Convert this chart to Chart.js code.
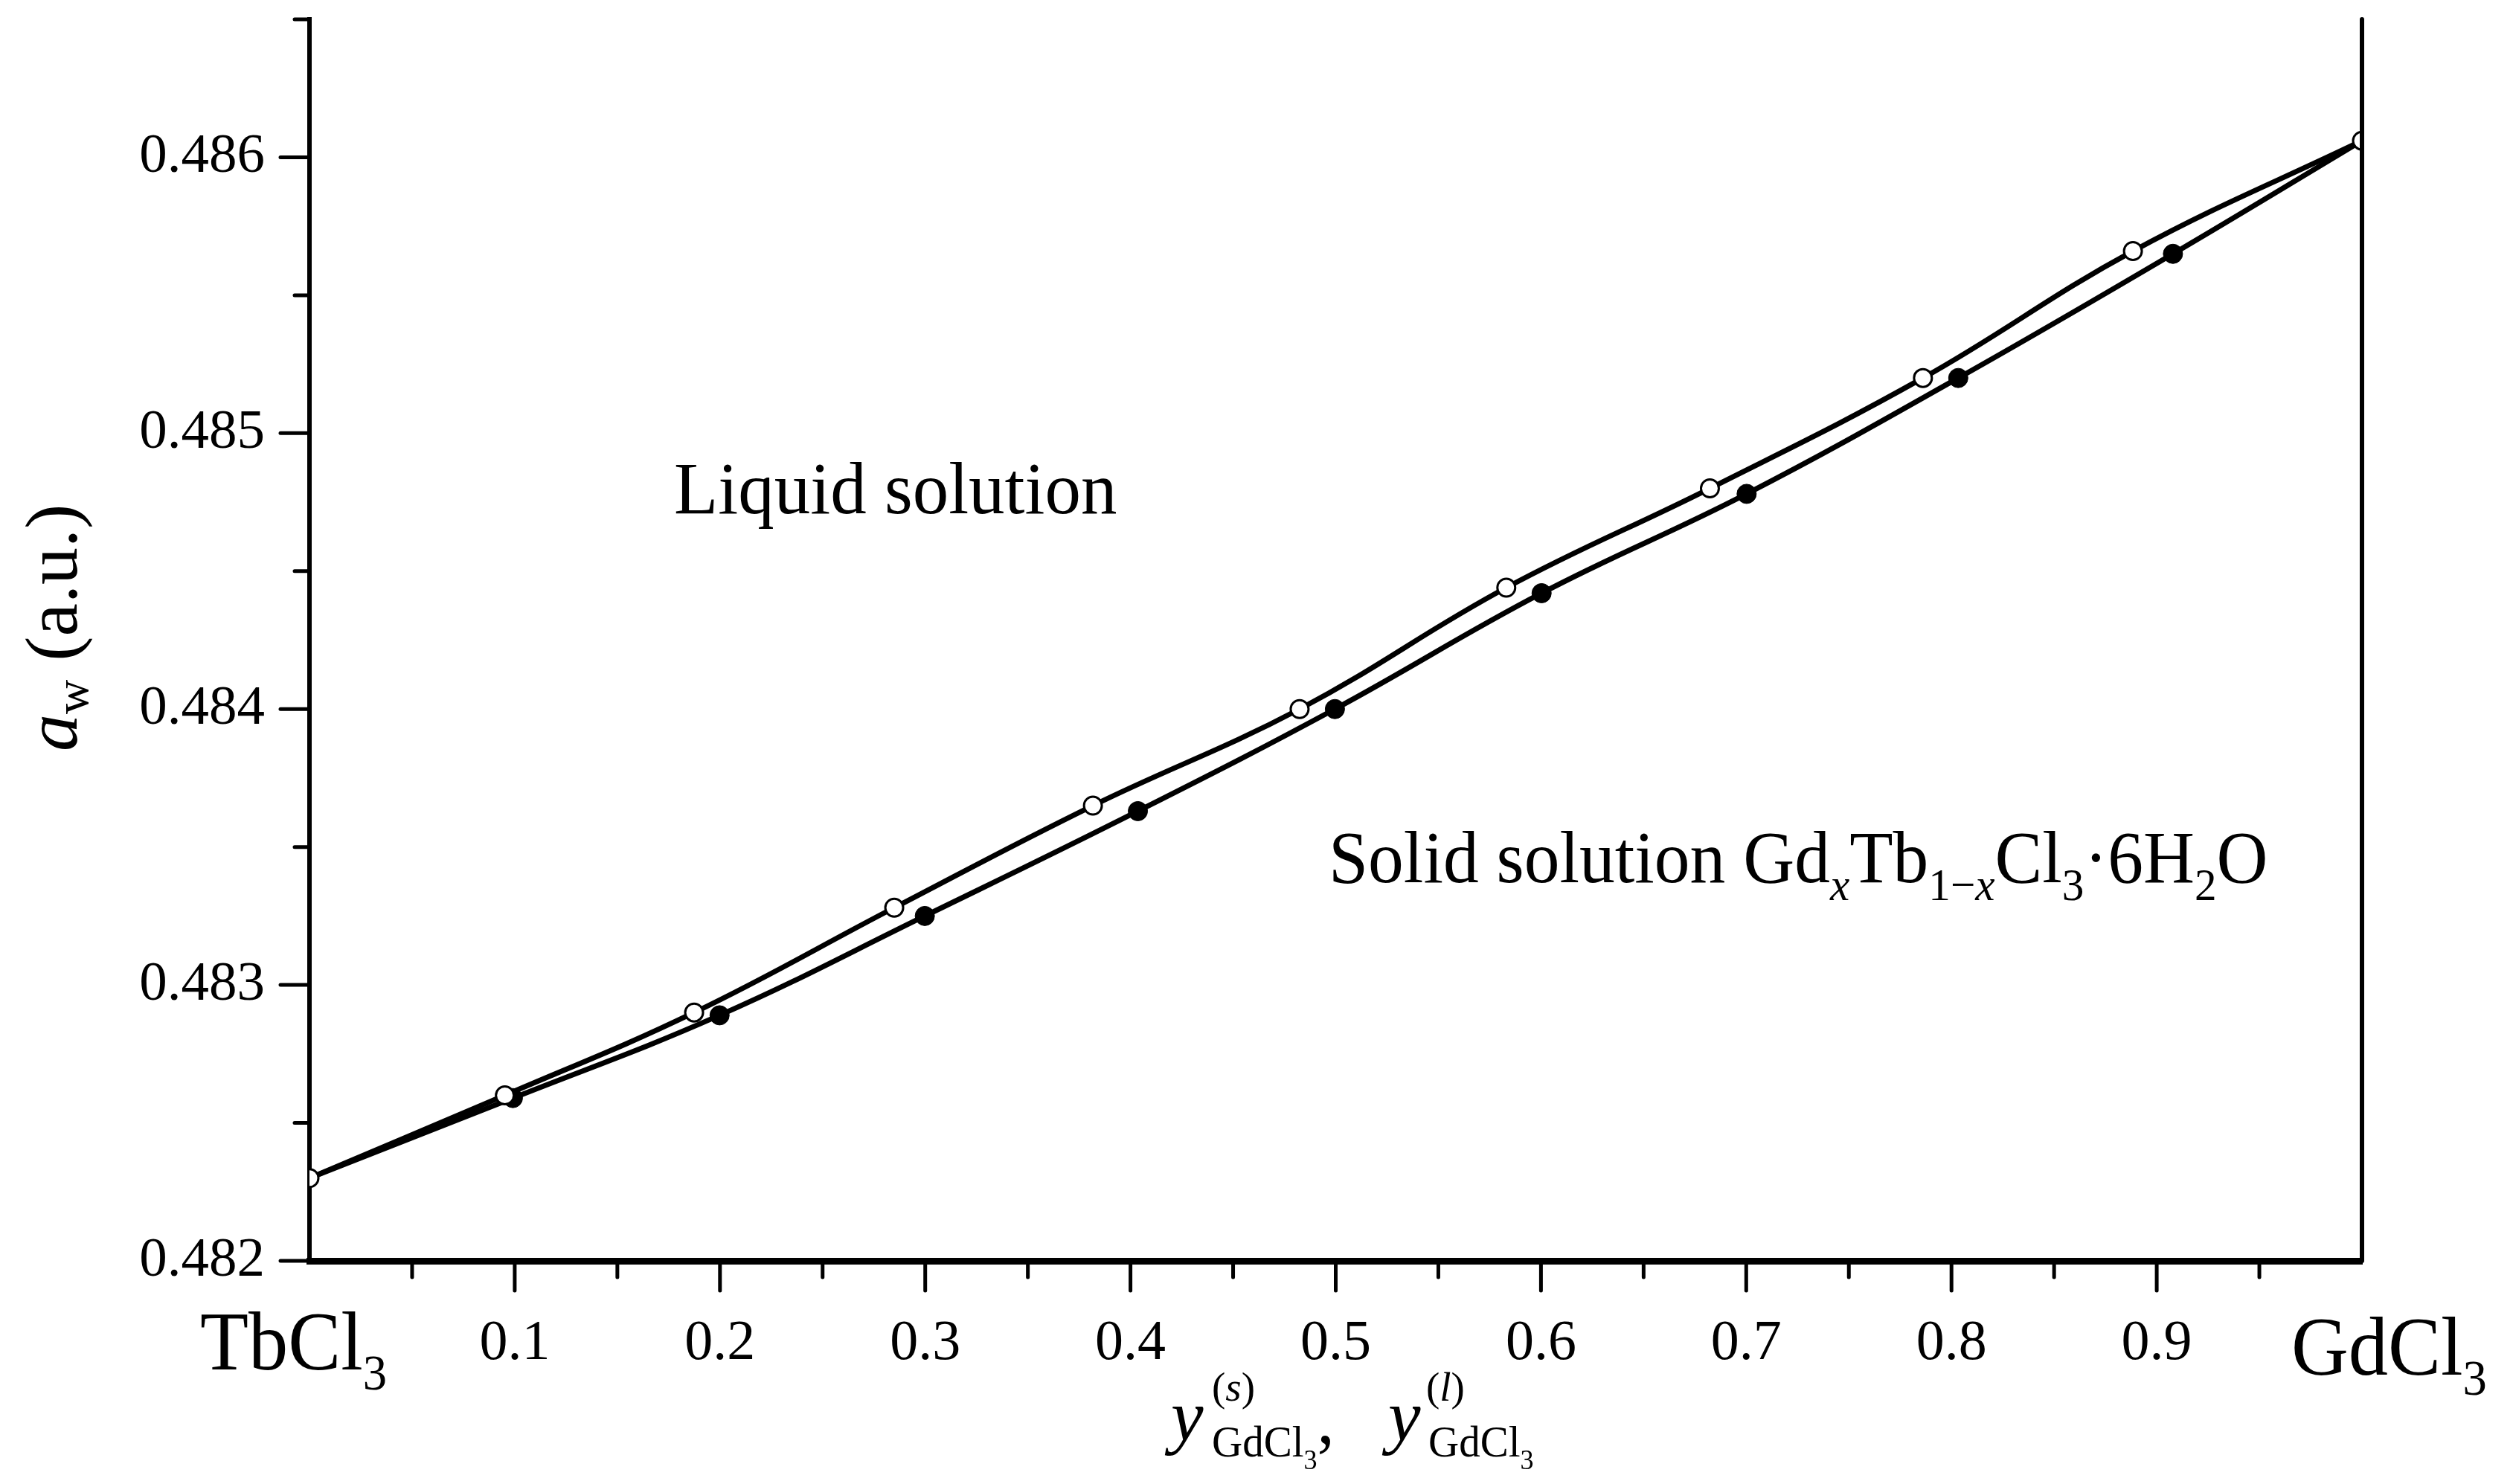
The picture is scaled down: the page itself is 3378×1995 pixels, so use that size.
<!DOCTYPE html>
<html>
<head>
<meta charset="utf-8">
<script src="https://cdn.jsdelivr.net/npm/chart.js@4.4.1/dist/chart.umd.min.js"></script>
<style>
  html, body { margin: 0; padding: 0; background: #fff; }
  #wrap { width: 3378px; height: 1995px; }
</style>
</head>
<body>
<div id="wrap"><canvas id="grafico" width="3378" height="1995"></canvas></div>
<script>
// puntos (a_w frente a la fracción de GdCl3)
const yLiquido  = [0, 0.0952, 0.1874, 0.2849, 0.3817, 0.4824, 0.5831, 0.6823, 0.7861, 0.8884, 1.0];
const awLiquido = [0.4823, 0.4826, 0.4829, 0.48328, 0.48365, 0.4840, 0.48444, 0.4848, 0.4852, 0.48566, 0.48606];
const ySolido   = [0, 0.0991, 0.1998, 0.2998, 0.4036, 0.4996, 0.6003, 0.7002, 0.8033, 0.9079, 1.0];
const awSolido  = [0.4823, 0.48259, 0.48289, 0.48325, 0.48363, 0.4840, 0.48442, 0.48478, 0.4852, 0.48565, 0.48606];

// marcas de los ejes
const xMarcasMayores = [0.1, 0.2, 0.3, 0.4, 0.5, 0.6, 0.7, 0.8, 0.9];
const xMarcasMenores = [0.05, 0.15, 0.25, 0.35, 0.45, 0.55, 0.65, 0.75, 0.85, 0.95];
const yMarcasMayores = [0.482, 0.483, 0.484, 0.485, 0.486];
const yMarcasMenores = [0.4825, 0.4835, 0.4845, 0.4855, 0.4865];

const FUENTE = '"Liberation Serif", "Times New Roman", serif';

function pares(xs, ys) {
  return xs.map((x, i) => ({ x, y: ys[i] }));
}

// escribe trozos de texto seguidos (subíndices, cursivas...)
function escribir(ctx, x, y, partes, escalaX = 1, angulo = 0) {
  ctx.save();
  ctx.translate(x, y);
  if (angulo) ctx.rotate(angulo);
  ctx.scale(escalaX, 1);
  ctx.fillStyle = '#000';
  ctx.textAlign = 'left';
  ctx.textBaseline = 'alphabetic';
  let cx = 0;
  partes.forEach((p) => {
    ctx.font = `${p.italica ? 'italic ' : ''}${p.tam}px ${FUENTE}`;
    ctx.fillText(p.t, cx, p.dy || 0);
    cx += ctx.measureText(p.t).width;
  });
  ctx.restore();
}

const marco = {
  id: 'marco',
  afterDraw(chart) {
    const { ctx, chartArea, scales } = chart;
    const sx = scales.x;
    const sy = scales.y;

    ctx.save();
    ctx.strokeStyle = '#000';
    ctx.lineCap = 'round';

    // eje derecho sin marcas
    ctx.lineWidth = 6;
    ctx.beginPath();
    ctx.moveTo(chartArea.right, chartArea.top);
    ctx.lineTo(chartArea.right, chartArea.bottom);
    ctx.stroke();

    // marcas hacia fuera
    ctx.lineWidth = 5;
    const abajo = chartArea.bottom;
    xMarcasMayores.forEach((v) => {
      const px = sx.getPixelForValue(v);
      ctx.beginPath(); ctx.moveTo(px, abajo); ctx.lineTo(px, abajo + 40); ctx.stroke();
    });
    xMarcasMenores.forEach((v) => {
      const px = sx.getPixelForValue(v);
      ctx.beginPath(); ctx.moveTo(px, abajo); ctx.lineTo(px, abajo + 22); ctx.stroke();
    });
    const izq = chartArea.left;
    yMarcasMayores.forEach((v) => {
      const py = sy.getPixelForValue(v);
      ctx.beginPath(); ctx.moveTo(izq, py); ctx.lineTo(izq - 39, py); ctx.stroke();
    });
    yMarcasMenores.forEach((v) => {
      const py = sy.getPixelForValue(v);
      ctx.beginPath(); ctx.moveTo(izq, py); ctx.lineTo(izq - 20, py); ctx.stroke();
    });
    ctx.restore();

    // extremos del eje x
    escribir(ctx, 269, 1841, [{ t: 'TbCl', tam: 112 }, { t: '3', tam: 68, dy: 27 }], 0.95);
    escribir(ctx, 3080, 1848, [{ t: 'GdCl', tam: 112 }, { t: '3', tam: 68, dy: 27 }], 0.95);

    // título del eje x
    escribir(ctx, 1574, 1936, [{ t: 'y', tam: 98, italica: true }]);
    escribir(ctx, 1629, 1883, [{ t: '(', tam: 55 }, { t: 's', tam: 55, italica: true }, { t: ')', tam: 55 }]);
    escribir(ctx, 1629, 1958, [{ t: 'GdCl', tam: 60 }, { t: '3', tam: 38, dy: 17 }, { t: ',', tam: 98, dy: -18 }], 0.95);
    escribir(ctx, 1866, 1936, [{ t: 'y', tam: 98, italica: true }]);
    escribir(ctx, 1917, 1883, [{ t: '(', tam: 55 }, { t: 'l', tam: 55, italica: true }, { t: ')', tam: 55 }]);
    escribir(ctx, 1920, 1958, [{ t: 'GdCl', tam: 60 }, { t: '3', tam: 38, dy: 17 }], 0.95);

    // título del eje y
    escribir(ctx, 103, 1010, [
      { t: 'a', tam: 100, italica: true },
      { t: 'w', tam: 64, dy: 15 },
      { t: ' (a.u.)', tam: 100 }
    ], 1, -Math.PI / 2);

    // rótulos de las regiones
    escribir(ctx, 906, 690, [{ t: 'Liquid solution', tam: 100 }], 0.97);
    escribir(ctx, 1786, 1186, [
      { t: 'Solid solution Gd', tam: 100 },
      { t: 'x', tam: 62, italica: true, dy: 24 },
      { t: 'Tb', tam: 100 },
      { t: '1\u2212', tam: 62, dy: 24 },
      { t: 'x', tam: 62, italica: true, dy: 24 },
      { t: 'Cl', tam: 100 },
      { t: '3', tam: 62, dy: 24 },
      { t: '\u00B76H', tam: 100 },
      { t: '2', tam: 62, dy: 24 },
      { t: 'O', tam: 100 }
    ], 0.955);
  }
};

const ultimo = ySolido.length - 1;

new Chart(document.getElementById('grafico'), {
  type: 'line',
  data: {
    datasets: [
      {
        label: 'Liquid',
        data: pares(yLiquido, awLiquido),
        borderColor: '#000',
        borderWidth: 7,
        tension: 0.4,
        pointRadius: 12,
        pointBorderWidth: 3,
        pointBackgroundColor: '#fff',
        pointBorderColor: '#000'
      },
      {
        label: 'Solid',
        data: pares(ySolido, awSolido),
        borderColor: '#000',
        borderWidth: 7,
        tension: 0.4,
        pointRadius: (c) => (c.dataIndex === 0 || c.dataIndex === ultimo ? 0 : 13),
        pointBorderWidth: 1,
        pointBackgroundColor: '#000',
        pointBorderColor: '#000'
      }
    ]
  },
  options: {
    responsive: false,
    animation: false,
    devicePixelRatio: 1,
    layout: { padding: { left: 0, top: 26, right: 203, bottom: 0 } },
    plugins: { legend: { display: false }, tooltip: { enabled: false } },
    scales: {
      x: {
        type: 'linear',
        min: 0,
        max: 1,
        grid: { display: false, drawTicks: false },
        border: { display: true, color: '#000', width: 9 },
        ticks: {
          stepSize: 0.1,
          padding: 66,
          color: '#000',
          font: { family: FUENTE, size: 76 },
          maxRotation: 0,
          autoSkip: false,
          callback: (v) => (v > 0.01 && v < 0.99 ? Number(v).toFixed(1) : '')
        },
        afterFit: (s) => { s.height = 300; s.paddingLeft = 0; s.paddingRight = 0; }
      },
      y: {
        type: 'linear',
        min: 0.482,
        max: 0.4865,
        grid: { display: false, drawTicks: false },
        border: { display: true, color: '#000', width: 6 },
        ticks: {
          stepSize: 0.0005,
          padding: 60,
          color: '#000',
          font: { family: FUENTE, size: 75 },
          autoSkip: false,
          callback: (v) => (Math.abs(v * 1000 - Math.round(v * 1000)) < 1e-6 ? Number(v).toFixed(3) : '')
        },
        afterFit: (s) => { s.width = 416; s.paddingTop = 0; s.paddingBottom = 0; }
      }
    }
  },
  plugins: [marco]
});
</script>
</body>
</html>
